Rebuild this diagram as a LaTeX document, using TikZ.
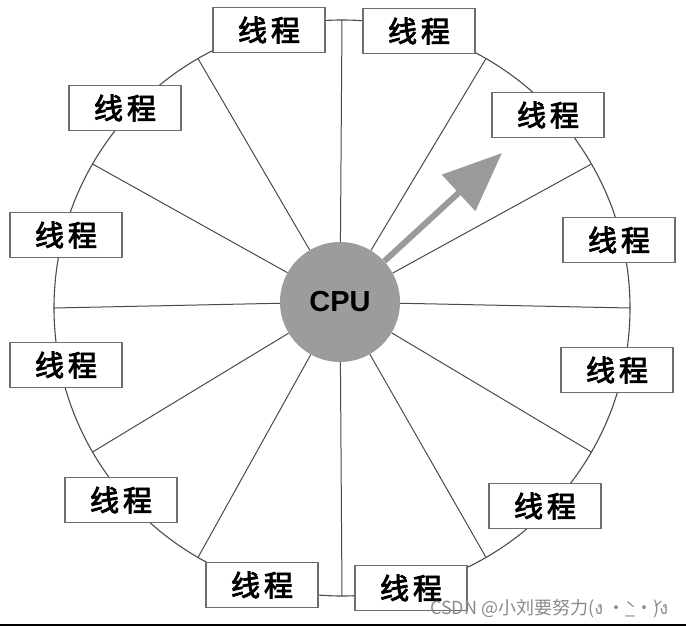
\documentclass[tikz,border=0pt]{standalone}
\usepackage{fontspec}
\setmainfont{Liberation Sans}
\newfontfamily\cjk{Noto Sans CJK SC}[FakeBold=3]
\newfontfamily\wmfont{Noto Sans CJK SC}
\newfontfamily\thaifont[Script=Thai]{Loma}
\usetikzlibrary{arrows.meta}
\definecolor{linegray}{HTML}{4A4A4A}
\definecolor{boxgray}{HTML}{6E6E6E}
\definecolor{cpugray}{HTML}{9C9C9C}
\definecolor{arrowgray}{HTML}{9A9A9A}
\definecolor{wmgray}{HTML}{8A8A8A}
\tikzset{
  threadbox/.style={draw=boxgray, line width=1.1pt, fill=white,
    minimum width=112pt, minimum height=45pt, inner sep=0pt,
    font=\cjk\fontsize{29}{29}\selectfont},
  spoke/.style={draw=linegray, line width=1pt},
  rim/.style={draw=linegray, line width=1.1pt},
  cpunode/.style={circle, fill=cpugray, minimum size=120pt, inner sep=0pt,
    font=\bfseries\fontsize{29}{29}\selectfont},
  bigarrow/.style={draw=arrowgray, line width=6pt,
    -{Triangle[length=59pt, width=48pt]}}
}
\begin{document}
\begin{tikzpicture}[x=1pt,y=-1pt]
\useasboundingbox (0,0) rectangle (686,626);
\coordinate (o) at (342,308);
\draw[rim] (o) circle[radius=288];
\foreach \i in {0,...,11}{
  \path (o) ++(\i*30:288) coordinate (s\i);
}
\node[cpunode] (cpu) at (340,302) {CPU};
\foreach \i in {0,...,11}{
  \draw[spoke] (cpu) -- (s\i);
}
\node[threadbox] (b1) at (269,30) {线\hspace{4pt}程};
\node[threadbox] (b2) at (419,31) {线\hspace{4pt}程};
\node[threadbox] (b3) at (548,115) {线\hspace{4pt}程};
\node[threadbox] (b4) at (619,240) {线\hspace{4pt}程};
\node[threadbox] (b5) at (617,370) {线\hspace{4pt}程};
\node[threadbox] (b6) at (545,506) {线\hspace{4pt}程};
\node[threadbox] (b7) at (411,588) {线\hspace{4pt}程};
\node[threadbox] (b8) at (262,585) {线\hspace{4pt}程};
\node[threadbox] (b9) at (121,500) {线\hspace{4pt}程};
\node[threadbox] (b10) at (66,365) {线\hspace{4pt}程};
\node[threadbox] (b11) at (66,235) {线\hspace{4pt}程};
\node[threadbox] (b12) at (125,108) {线\hspace{4pt}程};
\coordinate (atip) at (502,153);
\draw[bigarrow] (cpu) -- (atip);
\node[anchor=base west, inner sep=0pt, text=wmgray,
  font=\wmfont\fontsize{18}{18}\selectfont] (wm) at (430,614)
  {CSDN @小刘要努力({\thaifont ง} •̀\_•́){\thaifont ง}};
\fill[black] (0,623.5) rectangle (686,626);
\end{tikzpicture}
\end{document}
